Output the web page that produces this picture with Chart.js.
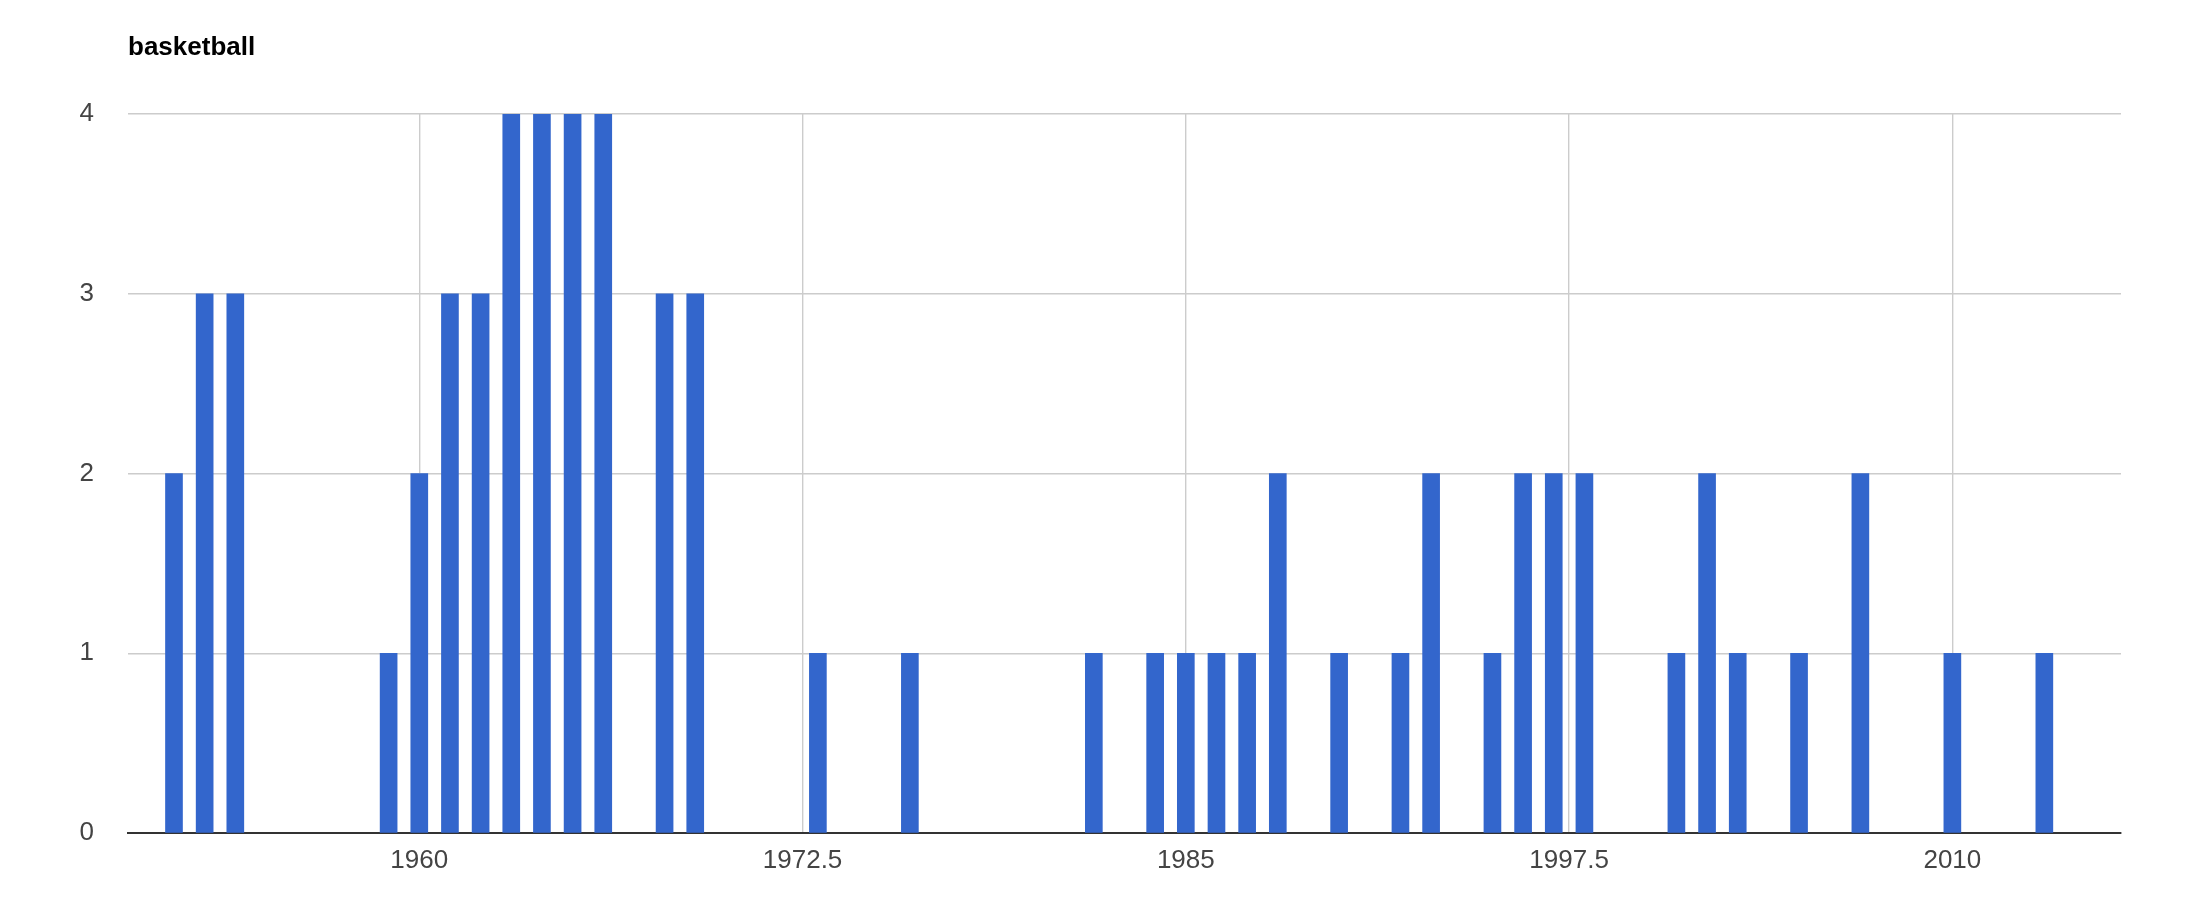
<!DOCTYPE html>
<html>
<head>
<meta charset="utf-8">
<script src="https://cdn.jsdelivr.net/npm/chart.js@4"></script>
<style>
body { margin: 0; background: #fff; }
#wrap { position: relative; width: 2200px; height: 916px; }
#title { position: absolute; left: 128px; top: 31px; font: bold 26px Arial, "Liberation Sans", sans-serif; color: #000; }
</style>
</head>
<body>
<div id="wrap">
<div id="title">basketball</div>
<canvas id="chart" width="2200" height="916"></canvas>
</div>
<script>
var years = [1952, 1953, 1954, 1959, 1960, 1961, 1962, 1963, 1964, 1965, 1966, 1968, 1969, 1973, 1976, 1982, 1984, 1985, 1986, 1987, 1988, 1990, 1992, 1993, 1995, 1996, 1997, 1998, 2001, 2002, 2003, 2005, 2007, 2010, 2013];
var counts = [2, 3, 3, 1, 2, 3, 3, 4, 4, 4, 4, 3, 3, 1, 1, 1, 1, 1, 1, 1, 2, 1, 1, 2, 1, 2, 2, 2, 1, 2, 1, 1, 2, 1, 1];
var xTicks = [1960, 1972.5, 1985, 1997.5, 2010];
var yTicks = [0, 1, 2, 3, 4];

var points = [];
for (var i = 0; i < years.length; i++) {
    points.push({ x: years[i], y: counts[i] });
}

var font = { family: 'Arial, "Liberation Sans", sans-serif', size: 26 };

var ctx = document.getElementById('chart');
var chart = new Chart(ctx, {
    type: 'bar',
    data: {
        datasets: [{
            label: 'basketball',
            data: points,
            backgroundColor: '#3366cc',
            barThickness: 17
        }]
    },
    options: {
        responsive: false,
        animation: false,
        layout: { padding: { top: 114, right: 79, left: 0, bottom: 0 } },
        plugins: { legend: { display: false }, tooltip: { enabled: false } },
        scales: {
            x: {
                type: 'linear',
                offset: false,
                min: 1950.5,
                max: 2015.5,
                afterBuildTicks: function(axis) {
                    axis.ticks = xTicks.map(function(v) { return { value: v }; });
                },
                afterFit: function(axis) { axis.height = 83; },
                grid: { color: '#cccccc', drawTicks: false, lineWidth: 1.4, offset: false },
                border: { color: '#333333', width: 2 },
                ticks: { color: '#444444', font: font, padding: 12, maxRotation: 0,
                    callback: function(v) { return String(v); } }
            },
            y: {
                min: 0,
                max: 4,
                afterBuildTicks: function(axis) {
                    axis.ticks = yTicks.map(function(v) { return { value: v }; });
                },
                afterFit: function(axis) { axis.width = 128; },
                grid: { color: '#cccccc', drawTicks: false, lineWidth: 1.4 },
                border: { display: false },
                ticks: { color: '#444444', font: font, padding: 34 }
            }
        }
    }
});
</script>
</body>
</html>
